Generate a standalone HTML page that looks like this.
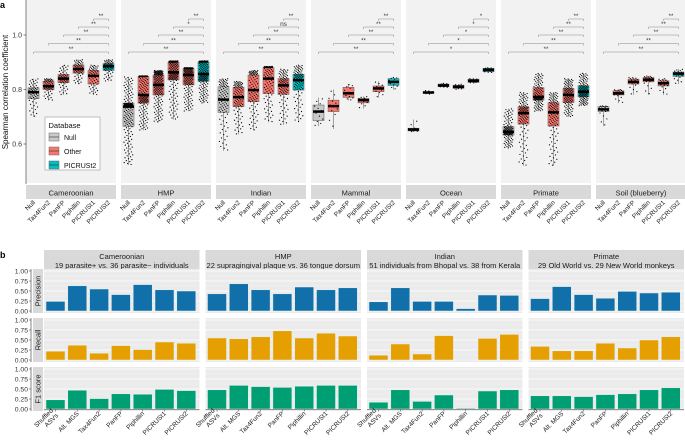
<!DOCTYPE html>
<html><head><meta charset="utf-8"><style>
html,body{margin:0;padding:0;background:#fff;}
svg{display:block;font-family:"Liberation Sans",sans-serif;}
</style></head><body>
<svg id="fig" width="685" height="440" viewBox="0 0 685 440" xmlns="http://www.w3.org/2000/svg"></svg>
<script>
// ---------- Panel a data ----------
const aFacets = ["Cameroonian","HMP","Indian","Mammal","Ocean","Primate","Soil (blueberry)"];
const aMethods = ["Null","Tax4Fun2","PanFP","Piphillin","PICRUSt1","PICRUSt2"];
const aGroups = ["Null","Other","Other","Other","Other","PICRUSt2"];
// [whiskerLow, q1, median, q3, whiskerHigh]
const statsCameroonian = [[0.70,0.766,0.79,0.806,0.84],[0.76,0.80,0.812,0.83,0.84],[0.78,0.825,0.84,0.855,0.89],[0.82,0.86,0.875,0.89,0.91],[0.78,0.82,0.85,0.87,0.89],[0.83,0.87,0.885,0.895,0.91]];
const statsHMP = [[0.523,0.665,0.737,0.75,0.847],[0.65,0.75,0.78,0.847,0.85],[0.68,0.78,0.817,0.853,0.87],[0.69,0.835,0.863,0.90,0.905],[0.72,0.817,0.853,0.877,0.88],[0.75,0.83,0.857,0.90,0.905]];
const statsIndian = [[0.575,0.716,0.763,0.81,0.84],[0.635,0.737,0.772,0.808,0.83],[0.65,0.755,0.798,0.853,0.87],[0.68,0.785,0.84,0.88,0.885],[0.67,0.782,0.815,0.84,0.875],[0.68,0.798,0.834,0.856,0.89]];
const statsMammal = [[0.665,0.686,0.719,0.743,0.77],[0.655,0.719,0.739,0.761,0.80],[0.76,0.771,0.786,0.808,0.82],[0.73,0.751,0.761,0.767,0.775],[0.77,0.792,0.804,0.813,0.83],[0.80,0.815,0.828,0.84,0.845]];
const statsOcean = [[0.645,0.648,0.653,0.658,0.69],[0.783,0.786,0.789,0.792,0.797],[0.808,0.81,0.815,0.82,0.823],[0.80,0.804,0.81,0.816,0.82],[0.824,0.826,0.832,0.838,0.84],[0.862,0.865,0.872,0.878,0.88]];
const statsPrimate = [[0.585,0.633,0.645,0.664,0.73],[0.52,0.673,0.713,0.737,0.79],[0.72,0.761,0.773,0.807,0.86],[0.52,0.666,0.716,0.752,0.79],[0.70,0.752,0.78,0.804,0.84],[0.74,0.773,0.792,0.814,0.86]];
const statsSoil = [[0.665,0.719,0.727,0.737,0.74],[0.75,0.78,0.786,0.795,0.80],[0.78,0.82,0.828,0.838,0.845],[0.78,0.828,0.836,0.844,0.85],[0.78,0.813,0.823,0.832,0.84],[0.82,0.848,0.858,0.864,0.875]];
const aStats = [statsCameroonian,statsHMP,statsIndian,statsMammal,statsOcean,statsPrimate,statsSoil];
const aCounts = [55,160,90,12,10,110,20];
const aSig = [["**","**","**","**","**"],["**","**","**","*","**"],["**","**","**","ns","**"],["**","**","**","**","**"],["*","*","*","*","*"],["**","**","**","**","**"],["**","**","**","**","**"]];
const aTicks = [0.6,0.8,1.0];
const aTickLabels = ["0.6","0.8","1.0"];

// ---------- Panel b data ----------
const bFacets = ["Cameroonian","HMP","Indian","Primate"];
const bSub = ["19 parasite+ vs. 36 parasite\u2212 individuals","22 supragingival plaque vs. 36 tongue dorsum","51 individuals from Bhopal vs. 38 from Kerala","29 Old World vs. 29 New World monkeys"];
const bMethods = ["Shuffled ASVs","Alt. MGS","Tax4Fun2","PanFP","Piphillin","PICRUSt1","PICRUSt2"];
const bRows = ["Precision","Recall","F1 score"];
const precision = [[0.24,0.63,0.55,0.41,0.66,0.53,0.50],[0.43,0.68,0.53,0.43,0.60,0.53,0.58],[0.23,0.58,0.24,0.24,0.06,0.40,0.39],[0.31,0.61,0.41,0.32,0.49,0.45,0.47]];
const recall = [[0.22,0.37,0.17,0.36,0.26,0.45,0.42],[0.55,0.53,0.58,0.73,0.55,0.67,0.60],[0.12,0.40,0.15,0.61,0.01,0.54,0.64],[0.34,0.23,0.23,0.42,0.30,0.50,0.58]];
const f1score = [[0.23,0.47,0.26,0.38,0.37,0.49,0.46],[0.48,0.59,0.56,0.54,0.57,0.59,0.59],[0.17,0.48,0.19,0.35,0.02,0.45,0.48],[0.33,0.33,0.31,0.36,0.38,0.48,0.53]];
const bValues = [precision,recall,f1score];
const bTicks = [0,0.25,0.5,0.75,1];
const bTickLabels = ["0.00","0.25","0.50","0.75","1.00"];

// ---------- helpers ----------
const NS="http://www.w3.org/2000/svg";
const svg=document.getElementById('fig');
function mk(tag,attrs,parent,text){const e=document.createElementNS(NS,tag);for(const k in attrs)e.setAttribute(k,attrs[k]);if(text!==undefined)e.textContent=text;(parent||svg).appendChild(e);return e;}
const groupFill={"Null":"#c9c9c9","Other":"#f8766d","PICRUSt2":"#00bfc4"};

// ---------- Panel a ----------
const ya=v=>35+(1-v)*272.5;
const aX0=f=>26+f*95, aW=90;
const aCx=(f,i)=>aX0(f)+7.5+i*15;
let t=mk('text',{x:0,y:8,'font-size':9,'font-weight':'bold'},svg,'a');

aFacets.forEach((fn,f)=>{
  const g=mk('g',{});
  
  
  const bg=mk('rect',{x:aX0(f),y:0,width:aW,height:183,fill:'#f2f2f2'},g);
  
  const st=mk('rect',{x:aX0(f),y:185,width:aW,height:14,fill:'#d9d9d9'},g);
  
  const sl=mk('text',{x:aX0(f)+aW/2,y:195.5,'font-size':7.5,'text-anchor':'middle',fill:'#1a1a1a'},g,fn);
  
  aMethods.forEach((m,i)=>{
    const s=aStats[f][i],cx=aCx(f,i),bw=11;
    const bx=mk('g',{},g);
    
    mk('line',{x1:cx,x2:cx,y1:ya(s[4]),y2:ya(s[0]),stroke:'#555','stroke-width':0.5},bx);
    mk('rect',{x:cx-bw/2,y:ya(s[3]),width:bw,height:Math.max(0.5,ya(s[1])-ya(s[3])),fill:groupFill[aGroups[i]],stroke:'#555','stroke-width':0.5},bx);
    const n=aCounts[f];
    const qp=[0,0.25,0.5,0.75,1];
    for(let k=0;k<n;k++){
      const p=(k+0.5)/n;let j=0;while(j<3&&p>qp[j+1])j++;
      const v=s[j]+(s[j+1]-s[j])*(p-qp[j])/(qp[j+1]-qp[j]);
      const fr=((k+1)*0.6180339+i*0.31+f*0.17)%1;
      const off=(fr-0.5)*9;
      const pt=mk('circle',{cx:cx+off,cy:ya(v),r:0.6,fill:'#000'},bx);
    }
    mk('line',{x1:cx-bw/2,x2:cx+bw/2,y1:ya(s[2]),y2:ya(s[2]),stroke:'#000','stroke-width':2.5},bx);
    const xl=mk('text',{x:0,y:0,'font-size':6.5,'text-anchor':'end',fill:'#222',transform:`translate(${cx+2},${203}) rotate(-45)`},g,m);
    
    if(i<5){
      const lv=[52,43.5,35,27,19][i];const x1=aCx(f,i),x2=aCx(f,5);
      const br=mk('path',{d:`M${x1},${lv+2}V${lv}H${x2}V${lv+2}`,fill:'none',stroke:'#888','stroke-width':0.5},g);
      
      const lab=aSig[f][i];
      const tx=mk('text',{x:(x1+x2)/2,y:lv-1,'font-size':lab=='ns'?6.5:6,'text-anchor':'middle',fill:'#333'},g,lab);
      
    }
  });
});
// y axis a
mk('line',{x1:26,x2:26,y1:0,y2:184,stroke:'#333','stroke-width':0.6});
aTicks.forEach((v,k)=>{
  mk('line',{x1:23.5,x2:26,y1:ya(v),y2:ya(v),stroke:'#333','stroke-width':0.6});
  const yl=mk('text',{x:22,y:ya(v)+2.5,'font-size':7,'text-anchor':'end',fill:'#333'},svg,aTickLabels[k]);
  
});
const yt=mk('text',{x:0,y:0,'font-size':8,'text-anchor':'middle',fill:'#111',transform:'translate(8,92) rotate(-90)'},svg,'Spearman correlation coefficient');

// legend
const lg=mk('g',{});

mk('rect',{x:45,y:117,width:55,height:53,fill:'#fff',stroke:'#999','stroke-width':0.6},lg);
mk('text',{x:48.5,y:128,'font-size':7.5,fill:'#111'},lg,'Database');
["Null","Other","PICRUSt2"].forEach((nm,k)=>{
  const y=131+k*14;
  const e=mk('g',{},lg);
  
  mk('rect',{x:49,y:y+2,width:10,height:8,fill:groupFill[nm],stroke:'#666','stroke-width':0.5},e);
  mk('line',{x1:49,x2:59,y1:y+6,y2:y+6,stroke:'#333','stroke-width':0.6},e);
  mk('text',{x:64,y:y+9,'font-size':7,fill:'#111'},e,nm);
});

// ---------- Panel b ----------
t=mk('text',{x:0,y:258,'font-size':9,'font-weight':'bold'},svg,'b');

const bZero=[311,360,409];
const yb=(r,v)=>bZero[r]-v*40;
const bX0=f=>44+f*161.5, bW=155.5;
const bCx=(f,i)=>bX0(f)+11.5+i*21.8;
const barCol=["#1170aa","#e69f00","#009e73"];
bFacets.forEach((fn,f)=>{
  const g=mk('g',{});
  
  const st=mk('rect',{x:bX0(f),y:250,width:bW,height:21,fill:'#d9d9d9'},g);
  
  mk('text',{x:bX0(f)+bW/2,y:259,'font-size':7.5,'text-anchor':'middle',fill:'#1a1a1a'},g,fn);
  mk('text',{x:bX0(f)+bW/2,y:268,'font-size':7.5,'text-anchor':'middle',fill:'#1a1a1a'},g,bSub[f]);
  bRows.forEach((rn,r)=>{
    const pb=mk('rect',{x:bX0(f),y:bZero[r]-42,width:bW,height:44,fill:'#ebebeb'},g);
    
    [0.125,0.375,0.625,0.875].forEach(v=>mk('line',{x1:bX0(f),x2:bX0(f)+bW,y1:yb(r,v),y2:yb(r,v),stroke:'#f5f5f5','stroke-width':0.4},g));
    bTicks.forEach(v=>mk('line',{x1:bX0(f),x2:bX0(f)+bW,y1:yb(r,v),y2:yb(r,v),stroke:'#fff','stroke-width':0.8},g));
    bMethods.forEach((m,i)=>{
      const v=bValues[r][f][i];
      const b=mk('rect',{x:bCx(f,i)-9.5,y:yb(r,v),width:19,height:v*40,fill:barCol[r],stroke:'#e6f0f0','stroke-width':0.5},g);
      
      
    });
  });
  mk('line',{x1:bX0(f),x2:bX0(f)+bW,y1:409.5,y2:409.5,stroke:'#333','stroke-width':0.6},g);
  bMethods.forEach((m,i)=>{
    const cx=bCx(f,i);
    mk('line',{x1:cx,x2:cx,y1:409.5,y2:411.5,stroke:'#333','stroke-width':0.5},g);
    if(m==="Shuffled ASVs"){
      const a=mk('text',{x:0,y:0,'font-size':6.5,'text-anchor':'end',fill:'#222',transform:`translate(${cx-2},${411}) rotate(-45)`},g,'Shuffled');
      
      const c=mk('text',{x:0,y:0,'font-size':6.5,'text-anchor':'end',fill:'#222',transform:`translate(${cx+3},${416}) rotate(-45)`},g,'ASVs');
      
    } else {
      const a=mk('text',{x:0,y:0,'font-size':6.5,'text-anchor':'end',fill:'#222',transform:`translate(${cx+2},${414}) rotate(-45)`},g,m);
      
    }
  });
});
bRows.forEach((rn,r)=>{
  const st=mk('rect',{x:33,y:bZero[r]-42,width:10,height:44,fill:'#d9d9d9'});
  
  const tl=mk('text',{x:0,y:0,'font-size':7.5,'text-anchor':'middle',fill:'#1a1a1a',transform:`translate(40.5,${bZero[r]-20}) rotate(-90)`},svg,rn);
  
  mk('line',{x1:31,x2:31,y1:bZero[r]-42,y2:bZero[r]+2,stroke:'#333','stroke-width':0.6});
  bTicks.forEach((v,k)=>{
    mk('line',{x1:29,x2:31,y1:yb(r,v),y2:yb(r,v),stroke:'#333','stroke-width':0.5});
    const l=mk('text',{x:28,y:yb(r,v)+2.3,'font-size':6.8,'text-anchor':'end',fill:'#333'},svg,bTickLabels[k]);
    
  });
});
</script>
</body></html>
